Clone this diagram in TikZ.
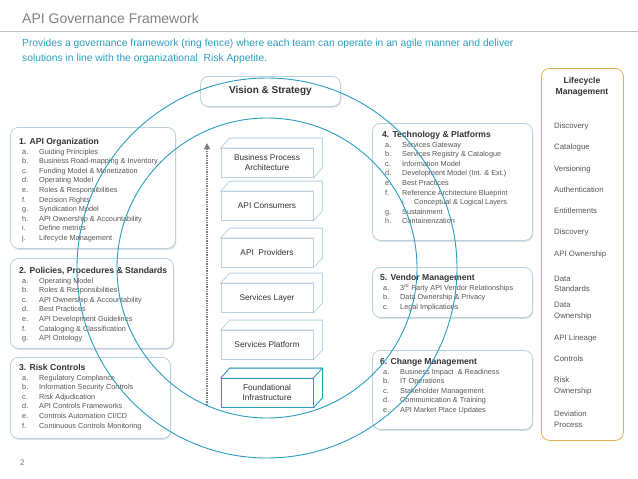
\documentclass[tikz,border=0pt]{standalone}
\usepackage{fontspec}
\setmainfont{Liberation Sans}
\usetikzlibrary{shadows,arrows.meta}
\definecolor{teal1}{HTML}{2A9DBF}
\definecolor{boxline}{HTML}{B9D3DE}
\definecolor{txt}{HTML}{555555}
\definecolor{head}{HTML}{333333}
\definecolor{gold}{HTML}{E0B050}
\newcommand{\itm}[2]{\makebox[20pt][l]{\hspace{3pt}#1}#2}
\tikzset{
  panel/.style={draw=boxline,thick,rounded corners=8pt,fill=white,
    drop shadow={shadow xshift=1pt,shadow yshift=-1.5pt,opacity=0.25},anchor=north west,inner sep=0pt},
  body/.style={anchor=north west,align=left,text=txt,font=\fontsize{7.3}{9.6}\selectfont,inner sep=0pt},
  cube/.style={draw=boxline,thick,fill=white,minimum width=92pt,text=head,
    font=\fontsize{8.3}{10}\selectfont,align=center,inner sep=0pt},
  ring/.style={draw=teal1,line width=0.9pt},
}
\begin{document}
\begin{tikzpicture}[x=1pt,y=-1pt]
\useasboundingbox (0,0) rectangle (638,479);
% title
\node[anchor=west,text=gray,font=\fontsize{14}{16}\selectfont,inner sep=0pt] (title) at (22,18) {API Governance Framework};
\draw[gray!50] (0,31) coordinate (r1) -- (638,31) coordinate (r2);
\node[anchor=north west,text=teal1,align=left,font=\fontsize{10.3}{15}\selectfont,inner sep=0pt] (sub) at (22,39)
  {Provides a governance framework (ring fence) where each team can operate in an agile manner and deliver\\
   solutions in line with the organizational\ \ Risk Appetite.};
% left panels
\node[panel,minimum width=165pt,minimum height=121pt] (p1) at (10,127) {};
\node[body] (t1) at (19,138) {\textbf{\color{head}\fontsize{8.6}{10}\selectfont 1. API Organization}\\
 \itm{a.}{Guiding Principles}\\ \itm{b.}{Business Road-mapping \& Inventory}\\ \itm{c.}{Funding Model \& Monetization}\\
 \itm{d.}{Operating Model}\\ \itm{e.}{Roles \& Responsibilities}\\ \itm{f.}{Decision Rights}\\
 \itm{g.}{Syndication Model}\\ \itm{h.}{API Ownership \& Accountability}\\ \itm{i.}{Define metrics}\\ \itm{j.}{Lifecycle Management}};
\node[panel,minimum width=163pt,minimum height=90pt] (p2) at (10,258) {};
\node[body] (t2) at (19,267) {\textbf{\color{head}\fontsize{8.6}{10}\selectfont 2. Policies, Procedures \& Standards}\\
 \itm{a.}{Operating Model}\\ \itm{b.}{Roles \& Responsibilities}\\ \itm{c.}{API Ownership \& Accountability}\\
 \itm{d.}{Best Practices}\\ \itm{e.}{API Development Guidelines}\\ \itm{f.}{Cataloging \& Classification}\\ \itm{g.}{API Ontology}};
\node[panel,minimum width=160pt,minimum height=81pt] (p3) at (10,357) {};
\node[body] (t3) at (19,364) {\textbf{\color{head}\fontsize{8.6}{10}\selectfont 3. Risk Controls}\\
 \itm{a.}{Regulatory Compliance}\\ \itm{b.}{Information Security Controls}\\ \itm{c.}{Risk Adjudication}\\
 \itm{d.}{API Controls Frameworks}\\ \itm{e.}{Controls Automation CI/CD}\\ \itm{f.}{Continuous Controls Monitoring}};
% right panels
\node[panel,minimum width=160pt,minimum height=117pt] (p4) at (372,123) {};
\node[body] (t4) at (382,131) {\textbf{\color{head}\fontsize{8.6}{10}\selectfont 4. Technology \& Platforms}\\
 \itm{a.}{Services Gateway}\\ \itm{b.}{Services Registry \& Catalogue}\\ \itm{c.}{Information Model}\\
 \itm{d.}{Development Model (Int. \& Ext.)}\\ \itm{e.}{Best Practices}\\ \itm{f.}{Reference Architecture Blueprint}\\
 \hspace{20pt}\makebox[12pt][l]{i.}Conceptual \& Logical Layers\\ \itm{g.}{Sustainment}\\ \itm{h.}{Containerization}};
\node[panel,minimum width=160pt,minimum height=50pt] (p5) at (372,267) {};
\node[body] (t5) at (380,274) {\textbf{\color{head}\fontsize{8.6}{10}\selectfont 5. Vendor Management}\\
 \itm{a.}{3\textsuperscript{rd} Party API Vendor Relationships}\\ \itm{b.}{Data Ownership \& Privacy}\\ \itm{c.}{Legal Implications}};
\node[panel,minimum width=160pt,minimum height=79pt] (p6) at (372,350) {};
\node[body] (t6) at (380,358) {\textbf{\color{head}\fontsize{8.6}{10}\selectfont 6. Change Management}\\
 \itm{a.}{Business Impact \ \& Readiness}\\ \itm{b.}{IT Operations}\\ \itm{c.}{Stakeholder Management}\\
 \itm{d.}{Communication \& Training}\\ \itm{e.}{API Market Place Updates}};
% lifecycle
\node[draw=gold,thick,rounded corners=8pt,fill=white,anchor=north west,minimum width=82pt,minimum height=372pt,inner sep=0pt] (lc) at (541,68) {};
\node[anchor=center,align=center,font=\bfseries\fontsize{8.6}{11}\selectfont,text=head,inner sep=0pt] (lch) at (582,87) {Lifecycle\\Management};
\foreach \t/\y [count=\i] in {Discovery/126,Catalogue/147,Versioning/169,Authentication/190,Entitlements/211,Discovery/232,API Ownership/254,
  Data\\Standards/284,Data\\Ownership/311,API Lineage/338,Controls/359,Risk\\Ownership/386,Deviation\\Process/419}
  \node[anchor=west,align=left,text=txt,font=\fontsize{7.8}{10.5}\selectfont,inner sep=0pt] (l\i) at (554,\y) {\t};
% vision
\node[panel,minimum width=140pt,minimum height=30pt] (vs) at (200,76) {};
\node[font=\bfseries\fontsize{10}{12}\selectfont,text=head] (vst) at (vs.center) {Vision \& Strategy};
% stack
\foreach \n/\y/\t in {c1/163/Business Process\\Architecture,c2/206/API Consumers,c3/253/API\ \ Providers,
  c4/298/Services Layer,c5/345/Services Platform,c6/393/Foundational\\Infrastructure}{
  \node[cube,minimum height=29pt] (\n) at (267,\y) {\t};
  \draw[boxline,thick,fill=white] (\n.north west) -- ++(9,-10) -- ([shift={(9,-10)}]\n.north east)
    -- ([shift={(9,-10)}]\n.south east) -- (\n.south east) -- (\n.north east) -- cycle;
}
\node[cube,minimum height=29pt,draw=teal1] (c6b) at (c6) {Foundational\\Infrastructure};
\draw[teal1,thick] (c6.north west) -- ++(9,-10) -- ([shift={(9,-10)}]c6.north east)
    -- ([shift={(9,-10)}]c6.south east) -- (c6.south east) (c6.north east) -- ++(9,-10);
\coordinate (ab) at (207,405);
\coordinate (at) at (207,143);
\draw[gray,densely dotted,line width=1.3pt,-{Triangle[length=6pt,width=6pt]}] (ab) -- (at);
% rings
\coordinate (cc) at (267,268);
\draw[ring] (cc) circle[radius=190];
\draw[ring] (cc) circle[radius=150];
\node[anchor=west,text=gray,font=\fontsize{8}{10}\selectfont,inner sep=0pt] (pg) at (20,463) {2};
\end{tikzpicture}
\end{document}
